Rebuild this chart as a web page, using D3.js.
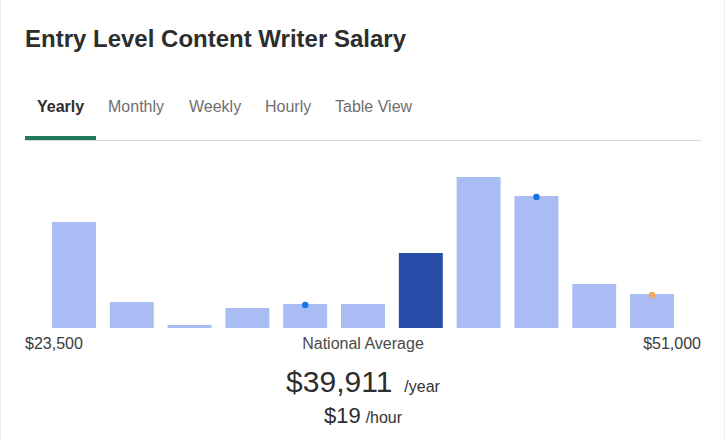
<!DOCTYPE html>
<html>
<head>
<meta charset="utf-8">
<script src="https://cdn.jsdelivr.net/npm/d3@7"></script>
<style>
  body { margin: 0; background: #fff; font-family: "Liberation Sans", Arial, sans-serif; }
</style>
</head>
<body>
<div id="chart"></div>
<script>
// salary distribution, bar heights (relative units)
const bins = ["b1", "b2", "b3", "b4", "b5", "b6", "b7", "b8", "b9", "b10", "b11"];
const counts = [106, 26, 3, 20, 24, 24, 75, 151, 132, 44, 34];
const highlightBin = "b7";
const markerBins = ["b5", "b9", "b11"];
const markerColors = ["#1473e6", "#1473e6", "#f6a95b"];
const tabs = ["Yearly", "Monthly", "Weekly", "Hourly", "Table View"];
const tabX = [37, 108, 189, 265, 335];
const minLabel = "$23,500";
const maxLabel = "$51,000";
const avgYear = "$39,911";
const avgHour = "$19";

const W = 726, H = 440;

const svg = d3.select("#chart")
    .append("svg")
    .attr("width", W)
    .attr("height", H);

// card borders
svg.append("rect").attr("x", 0).attr("y", 0).attr("width", 1).attr("height", H).attr("fill", "#ececec");
svg.append("rect").attr("x", 724).attr("y", 0).attr("width", 1).attr("height", H).attr("fill", "#ececec");

// title
svg.append("text")
    .attr("x", 25).attr("y", 47)
    .attr("font-size", 24).attr("font-weight", "bold")
    .attr("fill", "#2d2d2d")
    .text("Entry Level Content Writer Salary");

// tabs
svg.selectAll(".tab")
    .data(tabs)
    .enter()
    .append("text")
    .attr("class", "tab")
    .attr("x", (d, i) => tabX[i])
    .attr("y", 112)
    .attr("font-size", 16)
    .attr("font-weight", (d, i) => i === 0 ? "bold" : "normal")
    .attr("fill", (d, i) => i === 0 ? "#2d2d2d" : "#6f6f6f")
    .text(d => d);

svg.append("rect").attr("x", 25).attr("y", 140).attr("width", 676).attr("height", 1).attr("fill", "#d9d9d9");
svg.append("rect").attr("x", 25).attr("y", 136).attr("width", 71).attr("height", 4).attr("fill", "#22775f");

// bars
const x = d3.scaleBand()
    .domain(bins)
    .range([52, 674])
    .paddingInner(0.24)
    .paddingOuter(0);

const y = d3.scaleLinear()
    .domain([0, d3.max(counts)])
    .range([328, 177]);

svg.selectAll(".bar")
    .data(counts)
    .enter()
    .append("rect")
    .attr("class", "bar")
    .attr("x", (d, i) => x(bins[i]))
    .attr("y", d => y(d))
    .attr("width", x.bandwidth())
    .attr("height", d => y(0) - y(d))
    .attr("fill", (d, i) => bins[i] === highlightBin ? "#274ba7" : "#a9bcf3");

// markers on top of some bars
svg.selectAll(".dot")
    .data(markerBins)
    .enter()
    .append("circle")
    .attr("class", "dot")
    .attr("cx", d => x(d) + x.bandwidth() / 2)
    .attr("cy", d => y(counts[bins.indexOf(d)]) + 1)
    .attr("r", 3.2)
    .attr("fill", (d, i) => markerColors[i]);

// range labels
svg.append("text").attr("x", 25).attr("y", 349)
    .attr("font-size", 16).attr("fill", "#3a3a3a").text(minLabel);
svg.append("text").attr("x", 363).attr("y", 349).attr("text-anchor", "middle")
    .attr("font-size", 16).attr("fill", "#4a4a4a").text("National Average");
svg.append("text").attr("x", 701).attr("y", 349).attr("text-anchor", "end")
    .attr("font-size", 16).attr("fill", "#3a3a3a").text(maxLabel);

// averages
const yearLine = svg.append("text").attr("x", 363).attr("y", 392)
    .attr("text-anchor", "middle").attr("fill", "#2d2d2d");
yearLine.append("tspan").attr("font-size", 30).text(avgYear);
yearLine.append("tspan").attr("font-size", 16).attr("dx", 12).attr("fill", "#333").text("/year");

const hourLine = svg.append("text").attr("x", 363).attr("y", 423)
    .attr("text-anchor", "middle").attr("fill", "#2d2d2d");
hourLine.append("tspan").attr("font-size", 22).text(avgHour);
hourLine.append("tspan").attr("font-size", 16).attr("dx", 5).attr("fill", "#333").text("/hour");
</script>
</body>
</html>
